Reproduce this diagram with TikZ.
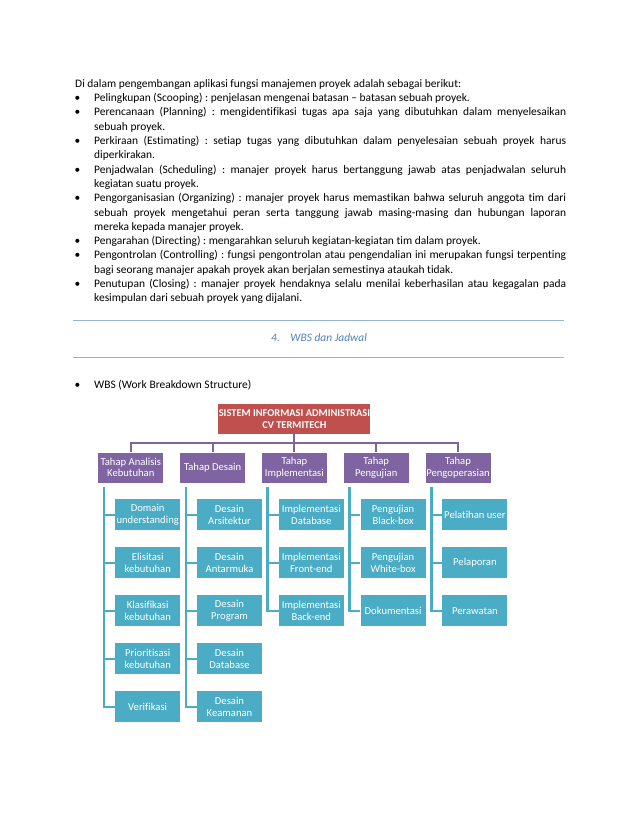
\documentclass[tikz,border=0pt]{standalone}
\usepackage{fontspec}
\setmainfont[Ligatures=NoCommon]{Carlito}
\usetikzlibrary{calc}
\definecolor{rootred}{HTML}{C0504D}
\definecolor{wbspurple}{HTML}{8064A2}
\definecolor{wbsteal}{HTML}{4BACC6}
\definecolor{headblue}{HTML}{4F81BD}
\definecolor{rulecol}{HTML}{95B3D7}
\tolerance=9999 \hyphenpenalty=10000 \exhyphenpenalty=10000
\frenchspacing
\begin{document}
\begin{tikzpicture}[x=0.96pt,y=-0.96pt,
 body/.style={inner sep=0pt, anchor=base west, font=\fontsize{11}{13.73}\selectfont},
 para/.style={body, text width=453pt, align=justify},
 bul/.style={inner sep=0pt, anchor=base, font=\fontsize{11}{13.73}\selectfont},
 rootbox/.style={fill=rootred, text=white, font=\fontsize{10}{10.8}\selectfont\bfseries, minimum width=146pt, minimum height=28.8pt, inner sep=0pt, align=center},
 phase/.style={fill=wbspurple, text=white, font=\fontsize{10.2}{10.8}\selectfont, minimum width=62.4pt, minimum height=28.8pt, inner sep=0pt, align=center},
 task/.style={fill=wbsteal, text=white, font=\fontsize{10.2}{10.8}\selectfont, minimum width=62.4pt, minimum height=29.8pt, inner sep=0pt, align=center},
 bus/.style={draw=wbspurple, line width=1.9pt},
 branch/.style={draw=wbsteal, line width=2.4pt},
 rulestyle/.style={draw=rulecol, line width=0.9pt}]
\useasboundingbox[fill=white] (0,0) rectangle (638,826);

% ---- body text ----
\node[body] (intro) at (75,87.3) {Di dalam pengembangan aplikasi fungsi manajemen proyek adalah sebagai berikut:};

\node[bul] (b1) at (77.5,101.6) {•};
\node[para] (i1) at (94,101.6) {Pelingkupan (Scooping) : penjelasan mengenai batasan – batasan sebuah proyek.};
\node[bul] (b2) at (77.5,115.9) {•};
\node[para] (i2) at (94,115.9) {Perencanaan (Planning) : mengidentifikasi tugas apa saja yang dibutuhkan dalam menyelesaikan\linebreak sebuah proyek.};
\node[bul] (b3) at (77.5,144.5) {•};
\node[para] (i3) at (94,144.5) {Perkiraan (Estimating) : setiap tugas yang dibutuhkan dalam penyelesaian sebuah proyek harus\linebreak diperkirakan.};
\node[bul] (b4) at (77.5,173.1) {•};
\node[para] (i4) at (94,173.1) {Penjadwalan (Scheduling) : manajer proyek harus bertanggung jawab atas penjadwalan seluruh\linebreak kegiatan suatu proyek.};
\node[bul] (b5) at (77.5,201.7) {•};
\node[para] (i5) at (94,201.7) {Pengorganisasian (Organizing) : manajer proyek harus memastikan bahwa seluruh anggota tim dari\linebreak sebuah proyek mengetahui peran serta tanggung jawab masing-masing dan hubungan laporan\linebreak mereka kepada manajer proyek.};
\node[bul] (b6) at (77.5,244.6) {•};
\node[para] (i6) at (94,244.6) {Pengarahan (Directing) : mengarahkan seluruh kegiatan-kegiatan tim dalam proyek.};
\node[bul] (b7) at (77.5,258.9) {•};
\node[para] (i7) at (94,258.9) {Pengontrolan (Controlling) : fungsi pengontrolan atau pengendalian ini merupakan fungsi terpenting\linebreak bagi seorang manajer apakah proyek akan berjalan semestinya ataukah tidak.};
\node[bul] (b8) at (77.5,287.5) {•};
\node[para] (i8) at (94,287.5) {Penutupan (Closing) : manajer proyek hendaknya selalu menilai keberhasilan atau kegagalan pada\linebreak kesimpulan dari sebuah proyek yang dijalani.};

% ---- heading ----
\coordinate (r1a) at (73,320.7);
\coordinate (r1b) at (564,320.7);
\coordinate (r2a) at (73,357.7);
\coordinate (r2b) at (564,357.7);
\draw[rulestyle] (r1a) -- (r1b);
\draw[rulestyle] (r2a) -- (r2b);
\node[body, text=headblue, font=\fontsize{11}{13.73}\selectfont\itshape] (head) at (271,341.7) {4.\hspace{10pt}WBS dan Jadwal};

\node[bul] (b9) at (77.5,388.4) {•};
\node[body] (wbs) at (94,388.4) {WBS (Work Breakdown Structure)};

% ---- WBS chart ----
\node[rootbox] (root) at (294.4,419) {SISTEM INFORMASI ADMINISTRASI\\CV TERMITECH};

\node[phase] (p1) at (130.8,467.6) {Tahap Analisis\\Kebutuhan};
\node[phase] (p2) at (212.6,467.6) {Tahap Desain};
\node[phase] (p3) at (294.4,467.6) {Tahap\\Implementasi};
\node[phase] (p4) at (376.2,467.6) {Tahap\\Pengujian};
\node[phase] (p5) at (458.0,467.6) {Tahap\\Pengoperasian};

\foreach \p in {p1,p2,p3,p4,p5}
  \draw[bus] (root.south) -- ++(0,8.7) -| (\p.north);

\node[task] (t11) at (147.7,514.8) {Domain\\understanding};
\node[task] (t12) at (147.7,562.8) {Elisitasi\\kebutuhan};
\node[task] (t13) at (147.7,610.8) {Klasifikasi\\kebutuhan};
\node[task] (t14) at (147.7,658.8) {Prioritisasi\\kebutuhan};
\node[task] (t15) at (147.7,706.8) {Verifikasi};

\node[task] (t21) at (229.5,514.8) {Desain\\Arsitektur};
\node[task] (t22) at (229.5,562.8) {Desain\\Antarmuka};
\node[task] (t23) at (229.5,610.8) {Desain\\Program};
\node[task] (t24) at (229.5,658.8) {Desain\\Database};
\node[task] (t25) at (229.5,706.8) {Desain\\Keamanan};

\node[task] (t31) at (311.3,514.8) {Implementasi\\Database};
\node[task] (t32) at (311.3,562.8) {Implementasi\\Front-end};
\node[task] (t33) at (311.3,610.8) {Implementasi\\Back-end};

\node[task] (t41) at (393.1,514.8) {Pengujian\\Black-box};
\node[task] (t42) at (393.1,562.8) {Pengujian\\White-box};
\node[task] (t43) at (393.1,610.8) {Dokumentasi};

\node[task] (t51) at (474.9,514.8) {Pelatihan user};
\node[task] (t52) at (474.9,562.8) {Pelaporan};
\node[task] (t53) at (474.9,610.8) {Perawatan};

\foreach \t in {t11,t12,t13,t14,t15}
  \draw[branch] ($(p1.south west)+(6,4)$) |- (\t.west);
\foreach \t in {t21,t22,t23,t24,t25}
  \draw[branch] ($(p2.south west)+(6,4)$) |- (\t.west);
\foreach \t in {t31,t32,t33}
  \draw[branch] ($(p3.south west)+(6,4)$) |- (\t.west);
\foreach \t in {t41,t42,t43}
  \draw[branch] ($(p4.south west)+(6,4)$) |- (\t.west);
\foreach \t in {t51,t52,t53}
  \draw[branch] ($(p5.south west)+(6,4)$) |- (\t.west);
\end{tikzpicture}
\end{document}
